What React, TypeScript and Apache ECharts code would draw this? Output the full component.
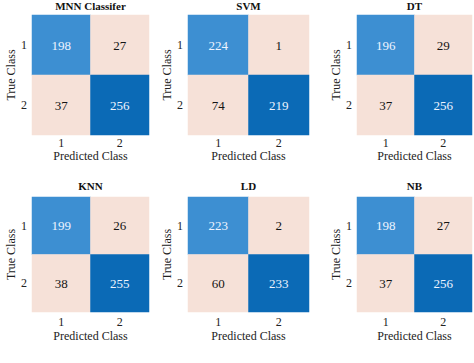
import React, { useEffect, useRef } from "react";
import * as echarts from "echarts";

const classLabels = ["1", "2"];
const modelNames = ["MNN Classifer", "SVM", "DT", "KNN", "LD", "NB"];
const mnnValues = [[198, 27], [37, 256]];
const svmValues = [[224, 1], [74, 219]];
const dtValues = [[196, 29], [37, 256]];
const knnValues = [[199, 26], [38, 255]];
const ldValues = [[223, 2], [60, 233]];
const nbValues = [[198, 27], [37, 256]];
const allValues = [mnnValues, svmValues, dtValues, knnValues, ldValues, nbValues];

const colLefts = [32, 188, 357];
const colWidths = [117, 121, 115];
const rowTops = [15, 197];
const rowHeights = [120, 115];
const titleTops = [0, 180];
const tickMargins = [2, 4];
const nameGaps = [14, 18];

const FONT = "'Liberation Serif', 'Times New Roman', serif";
const DIAG_TOP = "#3d8fd2";
const DIAG_BOTTOM = "#0b6ab6";
const OFF_DIAG = "#f6e1d8";

export default function App() {
  const ref = useRef<HTMLDivElement>(null);
  useEffect(() => {
    if (!ref.current) return;
    const chart = echarts.init(ref.current, undefined, { renderer: "svg" });
    const grids: any[] = [];
    const xAxes: any[] = [];
    const yAxes: any[] = [];
    const series: any[] = [];
    const titles: any[] = [];
    modelNames.forEach((name, i) => {
      const r = Math.floor(i / 3);
      const c = i % 3;
      grids.push({
        left: colLefts[c],
        top: rowTops[r],
        width: colWidths[c],
        height: rowHeights[r],
      });
      titles.push({
        text: name,
        left: colLefts[c] + colWidths[c] / 2,
        top: titleTops[r],
        padding: 0,
        textAlign: "center",
        textStyle: { fontFamily: FONT, fontSize: 11, fontWeight: "bold", color: "#111" },
      });
      xAxes.push({
        type: "category",
        gridIndex: i,
        data: classLabels,
        axisLine: { show: false },
        axisTick: { show: false },
        splitLine: { show: false },
        axisLabel: { fontFamily: FONT, fontSize: 12, color: "#222", margin: tickMargins[r] },
        name: "Predicted Class",
        nameLocation: "middle",
        nameGap: nameGaps[r],
        nameTextStyle: { fontFamily: FONT, fontSize: 12, color: "#222" },
      });
      yAxes.push({
        type: "category",
        gridIndex: i,
        data: classLabels,
        inverse: true,
        axisLine: { show: false },
        axisTick: { show: false },
        splitLine: { show: false },
        axisLabel: { fontFamily: FONT, fontSize: 12, color: "#222", margin: 5 },
        name: "True Class",
        nameLocation: "middle",
        nameRotate: 90,
        nameGap: 14,
        nameTextStyle: { fontFamily: FONT, fontSize: 12, color: "#222" },
      });
      const vals = allValues[i];
      const data: any[] = [];
      for (let t = 0; t < 2; t++) {
        for (let p = 0; p < 2; p++) {
          const kind = t === p ? (t === 0 ? 1 : 2) : 0;
          data.push({
            value: [p, t, vals[t][p], kind],
            label: {
              show: true,
              fontFamily: FONT,
              fontSize: 13,
              color: kind > 0 ? "#eef4ff" : "#141414",
            },
          });
        }
      }
      series.push({
        type: "heatmap",
        xAxisIndex: i,
        yAxisIndex: i,
        data,
        label: {
          show: true,
          fontFamily: FONT,
          fontSize: 13,
          formatter: (p: any) => String(p.value[2]),
        },
        emphasis: { disabled: true },
      });
    });
    chart.setOption({
      animation: false,
      backgroundColor: "#ffffff",
      textStyle: { fontFamily: FONT },
      title: titles,
      grid: grids,
      xAxis: xAxes,
      yAxis: yAxes,
      visualMap: {
        type: "piecewise",
        show: false,
        dimension: 3,
        seriesIndex: series.map((_, k) => k),
        pieces: [
          { value: 0, color: OFF_DIAG },
          { value: 1, color: DIAG_TOP },
          { value: 2, color: DIAG_BOTTOM },
        ],
      },
      series,
    });
    return () => chart.dispose();
  }, []);
  return (
    <div
      ref={ref}
      style={{ position: "fixed", left: 0, top: 0, width: 474, height: 363 }}
    />
  );
}
